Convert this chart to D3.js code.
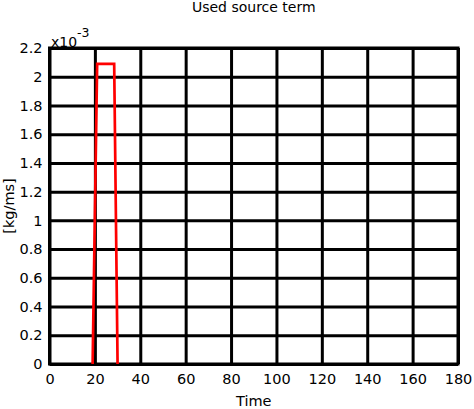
<!DOCTYPE html>
<html>
  <head>
    <meta charset="utf-8">
    <title>Used source term</title>
    <script src="https://d3js.org/d3.v7.min.js"></script>
    <style>
      body { margin: 0; background: #fff; }
      text { font-family: "DejaVu Sans", Verdana, sans-serif; }
    </style>
  </head>
  <body>
    <div id="chart"></div>
    <script>
      // data: source term over time (kg/ms)
      var times = [19, 21, 28.5, 30];
      var values = [0, 2.09e-3, 2.09e-3, 0];
      var xTicks = [0, 20, 40, 60, 80, 100, 120, 140, 160, 180];
      var yTicks = [0, 0.2e-3, 0.4e-3, 0.6e-3, 0.8e-3, 1.0e-3, 1.2e-3, 1.4e-3, 1.6e-3, 1.8e-3, 2.0e-3, 2.2e-3];

      var width = 474, height = 409;
      var margin = { top: 48, right: 16, bottom: 45, left: 49.5 };
      var w = width - margin.left - margin.right;
      var h = height - margin.top - margin.bottom;

      var svg = d3.select("#chart").append("svg")
        .attr("width", width)
        .attr("height", height);

      var g = svg.append("g")
        .attr("transform", "translate(" + margin.left + "," + margin.top + ")");

      var x = d3.scaleLinear().domain([0, 180]).range([0, w]);
      var y = d3.scaleLinear().domain([0, 2.2e-3]).range([h, 0]);

      // grid
      g.append("g")
        .attr("transform", "translate(0," + h + ")")
        .call(d3.axisBottom(x).tickValues(xTicks).tickSize(-h).tickFormat(""))
        .call(function(a) { a.select(".domain").remove(); })
        .selectAll("line").attr("stroke", "#000").attr("stroke-width", 3);

      g.append("g")
        .call(d3.axisLeft(y).tickValues(yTicks).tickSize(-w).tickFormat(""))
        .call(function(a) { a.select(".domain").remove(); })
        .selectAll("line").attr("stroke", "#000").attr("stroke-width", 3);

      // frame
      g.append("rect")
        .attr("width", w).attr("height", h)
        .attr("fill", "none").attr("stroke", "#000").attr("stroke-width", 3);

      // source term line
      var line = d3.line()
        .x(function(d, i) { return x(times[i]); })
        .y(function(d) { return y(d); });

      g.append("path")
        .attr("d", line(values))
        .attr("fill", "none")
        .attr("stroke", "#ff0000")
        .attr("stroke-width", 2.7)
        .attr("stroke-linejoin", "miter");

      // tick labels
      var xAxis = g.append("g")
        .attr("transform", "translate(0," + h + ")")
        .call(d3.axisBottom(x).tickValues(xTicks).tickSize(0).tickPadding(10));
      xAxis.select(".domain").remove();
      xAxis.selectAll("text").attr("font-size", 14.5).attr("fill", "#000")
        .attr("font-family", "'DejaVu Sans', Verdana, sans-serif");

      var yAxis = g.append("g")
        .call(d3.axisLeft(y).tickValues(yTicks).tickSize(0).tickPadding(7)
          .tickFormat(function(d) { return d3.format(".1~f")(d * 1000); }));
      yAxis.select(".domain").remove();
      yAxis.selectAll("text").attr("font-size", 14.5).attr("fill", "#000")
        .attr("font-family", "'DejaVu Sans', Verdana, sans-serif");

      // exponent
      var expo = svg.append("text")
        .attr("x", margin.left + 1.5)
        .attr("y", margin.top - 1.5)
        .attr("font-size", 14);
      expo.append("tspan").text("x10");
      expo.append("tspan").attr("dy", -9.5).attr("font-size", 12.5).text("-3");

      // title
      svg.append("text")
        .attr("x", margin.left + w / 2)
        .attr("y", 12)
        .attr("text-anchor", "middle")
        .attr("font-size", 14)
        .text("Used source term");

      // axis labels
      svg.append("text")
        .attr("x", margin.left + w / 2)
        .attr("y", 406)
        .attr("text-anchor", "middle")
        .attr("font-size", 14.5)
        .text("Time");

      svg.append("text")
        .attr("transform", "translate(14," + (margin.top + h / 2) + ") rotate(-90)")
        .attr("text-anchor", "middle")
        .attr("font-size", 14.5)
        .text("[kg/ms]");
    </script>
  </body>
</html>
